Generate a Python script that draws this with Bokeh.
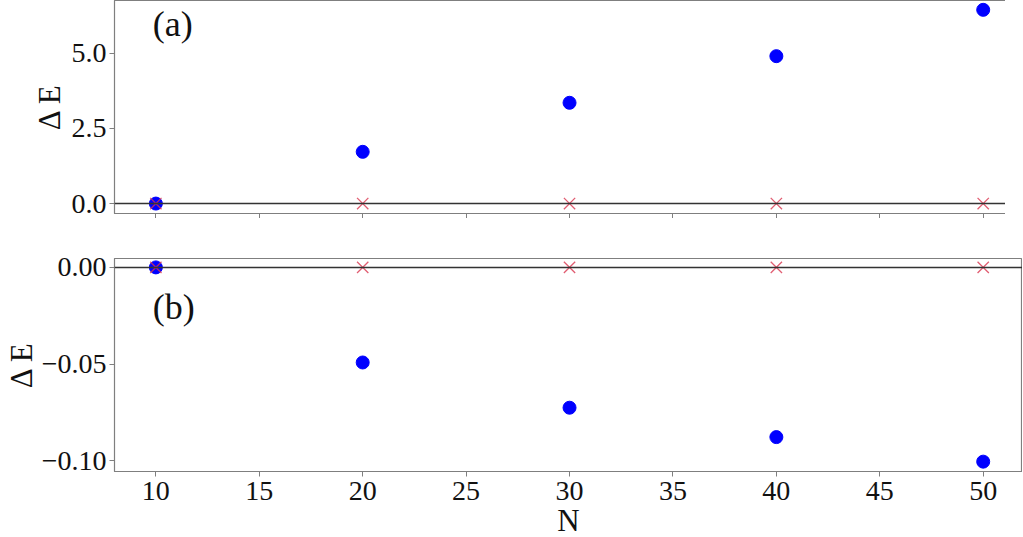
from bokeh.plotting import figure
from bokeh.layouts import column
from bokeh.models import Range1d, Span, Label, FixedTicker, CustomJSTickFormatter
from bokeh.embed import file_html
from bokeh.resources import INLINE

N = [10, 20, 30, 40, 50]
dE_a = [0.0, 1.72, 3.35, 4.90, 6.44]
dE_a_ref = [0.0, 0.0, 0.0, 0.0, 0.0]
dE_b = [0.0, -0.0492, -0.0726, -0.0878, -0.1005]
dE_b_ref = [0.0, 0.0, 0.0, 0.0, 0.0]
x_ticks = [10, 15, 20, 25, 30, 35, 40, 45, 50]
a_ticks = [0.0, 2.5, 5.0]
b_ticks = [0.0, -0.05, -0.10]

FONT = "Liberation Serif"
FS = "28px"
GRAY = "#7f7f7f"
RED = "#d9364f"


def style(p):
    p.toolbar_location = None
    p.xgrid.visible = False
    p.ygrid.visible = False
    p.outline_line_color = GRAY
    p.outline_line_width = 1.2
    for ax in [p.xaxis[0], p.yaxis[0]]:
        ax.axis_line_color = GRAY
        ax.major_tick_line_color = GRAY
        ax.major_tick_out = 5
        ax.major_tick_in = 0
        ax.minor_tick_line_color = None
        ax.major_label_text_font = FONT
        ax.major_label_text_font_size = FS
        ax.major_label_text_color = "#111111"
        ax.major_label_standoff = 3
        ax.axis_label_text_font = FONT
        ax.axis_label_text_font_size = "31px"
        ax.axis_label_text_font_style = "normal"
        ax.axis_label_text_color = "#111111"
    p.xaxis.ticker = FixedTicker(ticks=x_ticks)


p1 = figure(width=1015, output_backend="svg", toolbar_location=None,
            x_range=Range1d(8.0, 51.9), y_range=Range1d(-0.33, 6.75),
            min_border_left=97, min_border_right=0, min_border_top=0, min_border_bottom=0)
p1.frame_width = 908
p1.frame_height = 213
style(p1)
p1.yaxis.ticker = FixedTicker(ticks=a_ticks)
p1.yaxis.formatter = CustomJSTickFormatter(code="return tick.toFixed(1)")
p1.xaxis.formatter = CustomJSTickFormatter(code="return ''")
p1.xaxis.major_label_standoff = 0
p1.yaxis.axis_label = "Δ E"
p1.yaxis.axis_label_standoff = 2
p1.add_layout(Span(location=0, dimension="width", line_color="#333333", line_width=1.5))
p1.scatter(N, dE_a, size=13, color="blue")
p1.scatter(N, dE_a_ref, marker="x", size=16, line_color=RED, line_alpha=0.8, line_width=1.3)
p1.add_layout(Label(x=9.85, y=5.3, text="(a)", text_font=FONT, text_font_size="36px", text_color="#111111"))

p2 = figure(width=1015, output_backend="svg", toolbar_location=None,
            x_range=p1.x_range, y_range=Range1d(-0.1056, 0.0046),
            min_border_left=97, min_border_right=0, min_border_top=40, min_border_bottom=0)
p2.frame_width = 908
p2.frame_height = 213
style(p2)
p2.yaxis.ticker = FixedTicker(ticks=b_ticks)
p2.yaxis.formatter = CustomJSTickFormatter(code="return (tick < 0 ? '\u2212' : '') + Math.abs(tick).toFixed(2)")
p2.xaxis.axis_label = "N"
p2.xaxis.axis_label_standoff = 0
p2.xaxis.major_label_standoff = 5
p2.yaxis.axis_label = "Δ E"
p2.yaxis.axis_label_standoff = 0
p2.add_layout(Span(location=0, dimension="width", line_color="#333333", line_width=1.5))
p2.scatter(N, dE_b, size=13, color="blue")
p2.scatter(N, dE_b_ref, marker="x", size=16, line_color=RED, line_alpha=0.8, line_width=1.3)
p2.add_layout(Label(x=9.85, y=-0.031, text="(b)", text_font=FONT, text_font_size="36px", text_color="#111111"))

layout = column(p1, p2, spacing=0)
open("out.html", "w").write(file_html(layout, INLINE))
